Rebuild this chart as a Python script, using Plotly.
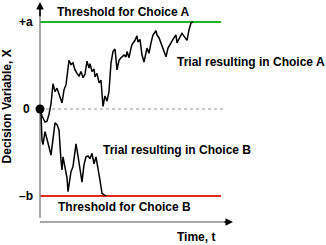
import plotly.graph_objects as go

# ---- data (decision variable X, thresholds at +a = 10, -b = -10) ----
time_a = [0, 2, 5, 7, 9, 11, 13, 15, 17, 19, 22, 24, 26, 29, 31, 33, 35, 37, 39, 41,
          43, 45, 47, 49, 50, 52, 54, 55, 57, 59, 61, 63, 65, 67, 69, 71, 73, 75, 77, 79,
          81, 84, 86, 87, 89, 91, 92, 95, 97, 98, 100, 102, 104, 107, 109, 111, 113, 116, 117, 119,
          121, 123, 126, 128, 130, 132, 134, 136, 137, 140, 142, 145, 147, 149, 151, 153]
x_a = [0, -0.8, -1.5, -1.4, -0.6, 0.6, 2.9, 2.0, 2.4, 1.8, 0.7, 2.2, 2.8, 5.6, 5.1, 5.3, 4.5, 4.1, 3.8, 4.3,
       3.6, 4.0, 5.5, 4.7, 5.2, 4.3, 4.6, 3.7, 4.1, 3.0, 3.3, 0.3, 1.5, 0.9, 2.0, 5.3, 6.6, 6.9, 4.5, 5.6,
       5.9, 6.2, 6.0, 6.6, 5.9, 7.0, 7.4, 7.9, 8.4, 7.7, 8.0, 6.2, 5.4, 7.0, 6.4, 7.6, 8.5, 9.0, 8.5, 8.2,
       7.6, 6.8, 6.0, 7.0, 7.4, 7.9, 8.2, 8.5, 7.6, 8.3, 8.7, 8.2, 7.9, 9.1, 9.9, 10.0]

time_b = [0, 1, 2, 3, 5, 7, 8, 11, 13, 15, 17, 19, 21, 22, 23, 25, 27, 28, 31, 33,
          35, 36, 38, 40, 42, 44, 46, 48, 50, 52, 54, 56, 58, 60, 62, 64, 66]
x_b = [0, -0.5, -3.6, -4.1, -2.6, -3.3, -3.9, -5.3, -3.1, -1.6, -1.8, -2.4, -5.9, -7.0, -5.5, -6.6, -7.9, -9.5, -7.2, -6.6,
       -4.7, -4.0, -5.4, -7.0, -8.4, -6.4, -5.5, -5.4, -5.7, -5.1, -6.3, -5.5, -6.7, -8.2, -9.7, -9.9, -10.0]

threshold_a = 10
threshold_b = -10
tick_vals = [10, 0, -10]
tick_text = ["+a", "0", "\u2013b"]
t_end_threshold = 181

FONT = dict(family="Liberation Sans, Arial, sans-serif", size=12, color="black", weight="bold")

fig = go.Figure()

fig.add_trace(go.Scatter(x=time_a, y=x_a, mode="lines",
                         line=dict(color="black", width=1.5), hoverinfo="skip"))
fig.add_trace(go.Scatter(x=time_b, y=x_b, mode="lines",
                         line=dict(color="black", width=1.5), hoverinfo="skip"))
fig.add_trace(go.Scatter(x=[0], y=[0], mode="markers",
                         marker=dict(color="black", size=9), hoverinfo="skip"))

# thresholds and zero line
fig.add_shape(type="line", x0=0, x1=t_end_threshold, y0=threshold_a, y1=threshold_a,
              line=dict(color="#22b522", width=2), layer="below")
fig.add_shape(type="line", x0=0, x1=t_end_threshold, y0=threshold_b, y1=threshold_b,
              line=dict(color="#e02a1a", width=2), layer="below")
fig.add_shape(type="line", x0=0, x1=185, y0=0, y1=0,
              line=dict(color="#999999", width=1, dash="3px,3px"), layer="below")

# axes drawn as arrows
fig.add_shape(type="line", x0=0, x1=0, y0=-12.5, y1=11.5,
              line=dict(color="#888888", width=1.5), layer="below")
fig.add_shape(type="line", x0=0, x1=186, y0=-13.0, y1=-13.0,
              line=dict(color="#888888", width=1.5), layer="below")
fig.add_annotation(x=0, y=12.3, ax=0, ay=10.5, xref="x", yref="y", axref="x", ayref="y",
                   text="", showarrow=True, arrowhead=2, arrowsize=1, arrowwidth=1.5,
                   arrowcolor="black")
fig.add_annotation(x=193, y=-13.0, ax=183, ay=-13.0, xref="x", yref="y", axref="x", ayref="y",
                   text="", showarrow=True, arrowhead=2, arrowsize=1, arrowwidth=1.5,
                   arrowcolor="black")

# tick labels
for v, t in zip(tick_vals, tick_text):
    fig.add_annotation(x=-14, y=v, text=t, showarrow=False, xanchor="center",
                       yanchor="middle", font=FONT)

# texts
texts = [
    ("Threshold for Choice A", 15, 11.15),
    ("Trial resulting in Choice A", 135, 5.4),
    ("Trial resulting in Choice B", 61, -4.7),
    ("Threshold for Choice B", 16, -11.3),
    ("Time, t", 135, -14.7),
]
for s, xx, yy in texts:
    fig.add_annotation(x=xx, y=yy, text=s, showarrow=False, xanchor="left",
                       yanchor="middle", font=FONT)

fig.add_annotation(x=-33, y=0.3, text="Decision Variable, X", showarrow=False,
                   textangle=-90, xanchor="center", yanchor="middle", font=FONT)

fig.update_layout(
    width=326, height=245,
    margin=dict(l=0, r=0, t=0, b=0),
    paper_bgcolor="white", plot_bgcolor="white",
    showlegend=False,
    xaxis=dict(range=[-40, 286], visible=False, fixedrange=True),
    yaxis=dict(range=[-15.63, 12.53], visible=False, fixedrange=True),
)

fig.write_html("out.html", config={"displayModeBar": False},
               post_script="document.body.style.margin='0px';document.body.style.overflow='hidden';")
